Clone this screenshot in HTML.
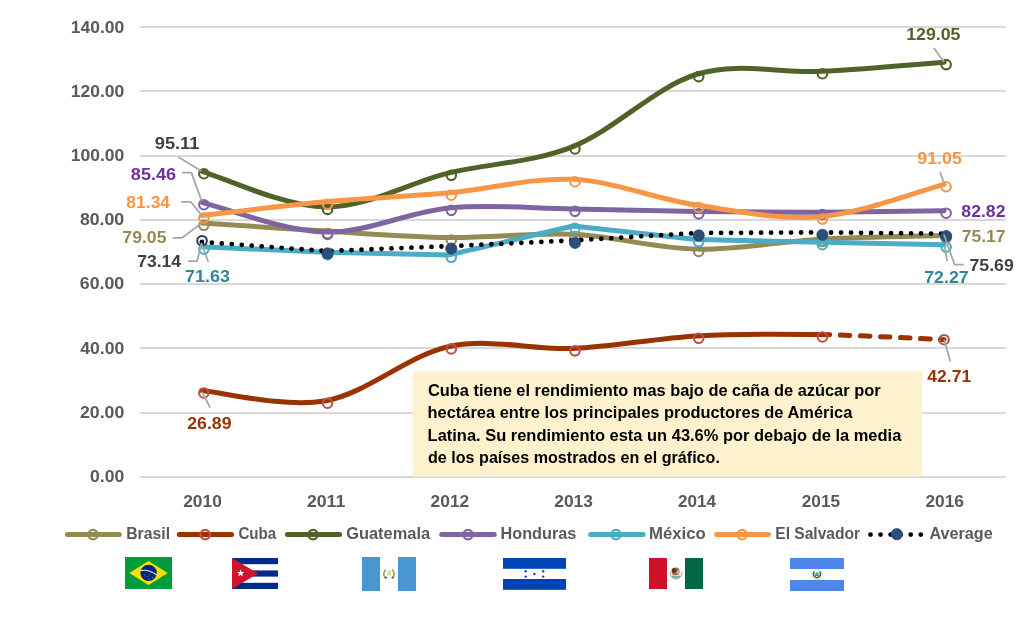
<!DOCTYPE html><html><head><meta charset="utf-8"><title>Rendimiento caña de azúcar</title><style>
html,body{margin:0;padding:0;background:#fff;width:1033px;height:630px;overflow:hidden}
svg{display:block;will-change:transform}
text{font-family:"Liberation Sans",Arial,sans-serif;font-weight:bold}
</style></head><body>
<svg width="1033" height="630" viewBox="0 0 1033 630">
<rect width="1033" height="630" fill="#fff"/>
<rect x="140" y="26" width="866" height="2" fill="#D9D9D9"/>
<rect x="140" y="90" width="866" height="2" fill="#D9D9D9"/>
<rect x="140" y="155" width="866" height="2" fill="#D9D9D9"/>
<rect x="140" y="219" width="866" height="2" fill="#D9D9D9"/>
<rect x="140" y="283" width="866" height="2" fill="#D9D9D9"/>
<rect x="140" y="347" width="866" height="2" fill="#D9D9D9"/>
<rect x="140" y="412" width="866" height="2" fill="#D9D9D9"/>
<rect x="140" y="476" width="866" height="2" fill="#D9D9D9"/>
<text x="90" y="482.24" font-size="16.38" fill="#595959" textLength="34.22" lengthAdjust="spacingAndGlyphs">0.00</text>
<text x="79.99" y="417.95" font-size="16.38" fill="#595959" textLength="44.24" lengthAdjust="spacingAndGlyphs">20.00</text>
<text x="80.23" y="353.67" font-size="16.38" fill="#595959" textLength="43.99" lengthAdjust="spacingAndGlyphs">40.00</text>
<text x="79.85" y="289.38" font-size="16.38" fill="#595959" textLength="44.38" lengthAdjust="spacingAndGlyphs">60.00</text>
<text x="79.94" y="225.1" font-size="16.38" fill="#595959" textLength="44.29" lengthAdjust="spacingAndGlyphs">80.00</text>
<text x="70.8" y="160.81" font-size="16.38" fill="#595959" textLength="53.42" lengthAdjust="spacingAndGlyphs">100.00</text>
<text x="70.8" y="96.53" font-size="16.38" fill="#595959" textLength="53.42" lengthAdjust="spacingAndGlyphs">120.00</text>
<text x="70.8" y="33.04" font-size="16.38" fill="#595959" textLength="53.42" lengthAdjust="spacingAndGlyphs">140.00</text>
<text x="183.21" y="506.74" font-size="16.38" fill="#595959" textLength="38.61" lengthAdjust="spacingAndGlyphs">2010</text>
<text x="306.92" y="506.74" font-size="16.38" fill="#595959" textLength="38.38" lengthAdjust="spacingAndGlyphs">2011</text>
<text x="430.63" y="506.74" font-size="16.38" fill="#595959" textLength="38.6" lengthAdjust="spacingAndGlyphs">2012</text>
<text x="554.35" y="506.72" font-size="16.35" fill="#595959" textLength="38.53" lengthAdjust="spacingAndGlyphs">2013</text>
<text x="678.07" y="506.74" font-size="16.38" fill="#595959" textLength="37.98" lengthAdjust="spacingAndGlyphs">2014</text>
<text x="801.78" y="506.74" font-size="16.38" fill="#595959" textLength="38.38" lengthAdjust="spacingAndGlyphs">2015</text>
<text x="925.49" y="506.74" font-size="16.38" fill="#595959" textLength="38.53" lengthAdjust="spacingAndGlyphs">2016</text>
<rect x="413" y="371" width="509" height="105.5" fill="#FEF1CD"/>
<text x="428.03" y="395.7" font-size="16.42" fill="#000000" textLength="452.52" lengthAdjust="spacingAndGlyphs">Cuba tiene el rendimiento mas bajo de caña de azúcar por</text>
<text x="427.55" y="418" font-size="16.42" fill="#000000" textLength="424.74" lengthAdjust="spacingAndGlyphs">hectárea entre los principales productores de América</text>
<text x="427.6" y="440.9" font-size="16.42" fill="#000000" textLength="473.7" lengthAdjust="spacingAndGlyphs">Latina. Su rendimiento esta un 43.6% por debajo de la media</text>
<text x="428.04" y="463.4" font-size="16.42" fill="#000000" textLength="291.87" lengthAdjust="spacingAndGlyphs">de los países mostrados en el gráfico.</text>
<path d="M201.86 222.91 C222.48 224.28 284.33 228.67 325.57 231.11 C366.81 233.54 408.05 237 449.29 237.54 C490.52 238.07 531.76 232.39 573 234.32 C614.24 236.25 655.48 248.3 696.71 249.11 C737.95 249.91 779.19 241.43 820.43 239.14 C861.67 236.86 923.52 236.01 944.14 235.38" fill="none" stroke="#948A54" stroke-width="5.0" stroke-linecap="round" stroke-linejoin="round"/>
<circle cx="203.86" cy="225.31" r="4.75" fill="none" stroke="#948A54" stroke-width="2.1"/>
<circle cx="327.57" cy="233.51" r="4.75" fill="none" stroke="#948A54" stroke-width="2.1"/>
<circle cx="451.29" cy="239.94" r="4.75" fill="none" stroke="#948A54" stroke-width="2.1"/>
<circle cx="575" cy="236.72" r="4.75" fill="none" stroke="#948A54" stroke-width="2.1"/>
<circle cx="698.71" cy="251.51" r="4.75" fill="none" stroke="#948A54" stroke-width="2.1"/>
<circle cx="822.43" cy="241.54" r="4.75" fill="none" stroke="#948A54" stroke-width="2.1"/>
<circle cx="946.14" cy="237.78" r="4.75" fill="none" stroke="#948A54" stroke-width="2.1"/>
<path d="M201.86 390.57 C222.48 392.28 284.33 408.17 325.57 400.82 C366.81 393.48 408.05 355.23 449.29 346.5 C490.52 337.77 531.76 350.2 573 348.43 C614.24 346.66 655.48 338.2 696.71 335.89 C737.95 333.59 779.19 333.97 820.43 334.61" fill="none" stroke="#993300" stroke-width="5.0" stroke-linecap="round" stroke-linejoin="round"/>
<path d="M820.43 334.61 C861.67 335.24 923.52 338.87 944.14 339.72" fill="none" stroke="#993300" stroke-width="5.0" stroke-linecap="round" stroke-dasharray="9.5 10.5"/>
<circle cx="203.86" cy="392.97" r="4.75" fill="none" stroke="#C0504D" stroke-width="2.1"/>
<circle cx="327.57" cy="403.22" r="4.75" fill="none" stroke="#C0504D" stroke-width="2.1"/>
<circle cx="451.29" cy="348.9" r="4.75" fill="none" stroke="#C0504D" stroke-width="2.1"/>
<circle cx="575" cy="350.83" r="4.75" fill="none" stroke="#C0504D" stroke-width="2.1"/>
<circle cx="698.71" cy="338.29" r="4.75" fill="none" stroke="#C0504D" stroke-width="2.1"/>
<circle cx="822.43" cy="337.01" r="4.75" fill="none" stroke="#C0504D" stroke-width="2.1"/>
<circle cx="944.14" cy="339.72" r="4.75" fill="none" stroke="#C0504D" stroke-width="2.1"/>
<path d="M201.86 171.29 C222.48 177.24 284.33 206.73 325.57 207 C366.81 207.27 408.05 183 449.29 172.93 C490.52 162.86 531.76 163.02 573 146.57 C614.24 130.12 655.48 86.79 696.71 74.25 C737.95 61.71 779.19 73.37 820.43 71.36 C861.67 69.35 923.52 63.72 944.14 62.2" fill="none" stroke="#4F6228" stroke-width="5.0" stroke-linecap="round" stroke-linejoin="round"/>
<circle cx="203.86" cy="173.69" r="4.75" fill="none" stroke="#4F6228" stroke-width="2.1"/>
<circle cx="327.57" cy="209.4" r="4.75" fill="none" stroke="#4F6228" stroke-width="2.1"/>
<circle cx="451.29" cy="175.33" r="4.75" fill="none" stroke="#4F6228" stroke-width="2.1"/>
<circle cx="575" cy="148.97" r="4.75" fill="none" stroke="#4F6228" stroke-width="2.1"/>
<circle cx="698.71" cy="76.65" r="4.75" fill="none" stroke="#4F6228" stroke-width="2.1"/>
<circle cx="822.43" cy="73.76" r="4.75" fill="none" stroke="#4F6228" stroke-width="2.1"/>
<circle cx="946.14" cy="64.6" r="4.75" fill="none" stroke="#4F6228" stroke-width="2.1"/>
<path d="M201.86 202.31 C222.48 207.27 284.33 231.13 325.57 232.07 C366.81 233.01 408.05 211.82 449.29 207.96 C490.52 204.11 531.76 208.34 573 208.93 C614.24 209.52 655.48 210.96 696.71 211.5 C737.95 212.04 779.19 212.26 820.43 212.14 C861.67 212.03 923.52 211.02 944.14 210.79" fill="none" stroke="#8064A2" stroke-width="5.0" stroke-linecap="round" stroke-linejoin="round"/>
<circle cx="203.86" cy="204.71" r="4.75" fill="none" stroke="#8064A2" stroke-width="2.1"/>
<circle cx="327.57" cy="234.47" r="4.75" fill="none" stroke="#8064A2" stroke-width="2.1"/>
<circle cx="451.29" cy="210.36" r="4.75" fill="none" stroke="#8064A2" stroke-width="2.1"/>
<circle cx="575" cy="211.33" r="4.75" fill="none" stroke="#8064A2" stroke-width="2.1"/>
<circle cx="698.71" cy="213.9" r="4.75" fill="none" stroke="#8064A2" stroke-width="2.1"/>
<circle cx="822.43" cy="214.54" r="4.75" fill="none" stroke="#8064A2" stroke-width="2.1"/>
<circle cx="946.14" cy="213.19" r="4.75" fill="none" stroke="#8064A2" stroke-width="2.1"/>
<path d="M201.86 246.76 L325.57 252.32 L449.29 254.89 L573 225.96 L696.71 239.46 L820.43 242.36 L944.14 244.7" fill="none" stroke="#4BACC6" stroke-width="5.0" stroke-linecap="round" stroke-linejoin="round"/>
<circle cx="203.86" cy="249.16" r="4.75" fill="none" stroke="#4BACC6" stroke-width="2.1"/>
<circle cx="327.57" cy="254.72" r="4.75" fill="none" stroke="#4BACC6" stroke-width="2.1"/>
<circle cx="451.29" cy="257.29" r="4.75" fill="none" stroke="#4BACC6" stroke-width="2.1"/>
<circle cx="575" cy="228.36" r="4.75" fill="none" stroke="#4BACC6" stroke-width="2.1"/>
<circle cx="698.71" cy="241.86" r="4.75" fill="none" stroke="#4BACC6" stroke-width="2.1"/>
<circle cx="822.43" cy="244.76" r="4.75" fill="none" stroke="#4BACC6" stroke-width="2.1"/>
<circle cx="946.14" cy="247.1" r="4.75" fill="none" stroke="#4BACC6" stroke-width="2.1"/>
<path d="M201.86 215.55 C222.48 213.27 284.33 205.64 325.57 201.86 C366.81 198.07 408.05 196.61 449.29 192.86 C490.52 189.11 531.76 177.32 573 179.36 C614.24 181.39 655.48 198.86 696.71 205.07 C737.95 211.29 779.19 220.1 820.43 216.64 C861.67 213.19 923.52 189.72 944.14 184.34" fill="none" stroke="#F79646" stroke-width="5.0" stroke-linecap="round" stroke-linejoin="round"/>
<circle cx="203.86" cy="217.95" r="4.75" fill="none" stroke="#F79646" stroke-width="2.1"/>
<circle cx="327.57" cy="204.26" r="4.75" fill="none" stroke="#F79646" stroke-width="2.1"/>
<circle cx="451.29" cy="195.26" r="4.75" fill="none" stroke="#F79646" stroke-width="2.1"/>
<circle cx="575" cy="181.76" r="4.75" fill="none" stroke="#F79646" stroke-width="2.1"/>
<circle cx="698.71" cy="207.47" r="4.75" fill="none" stroke="#F79646" stroke-width="2.1"/>
<circle cx="822.43" cy="219.04" r="4.75" fill="none" stroke="#F79646" stroke-width="2.1"/>
<circle cx="946.14" cy="186.74" r="4.75" fill="none" stroke="#F79646" stroke-width="2.1"/>
<path d="M201.86 241.91 L325.57 251.04 L449.29 246.21 L573 240.43 L696.71 233.04 L820.43 232.39 L944.14 233.71" fill="none" stroke="#000" stroke-width="4.8" stroke-linecap="round" stroke-dasharray="0 10"/>
<circle cx="202.06" cy="240.71" r="4.8" fill="none" stroke="#203864" stroke-width="2"/>
<circle cx="327.57" cy="253.44" r="5.6" fill="#2A5079" stroke="#224573" stroke-width="0.8"/>
<circle cx="451.29" cy="248.61" r="5.6" fill="#2A5079" stroke="#224573" stroke-width="0.8"/>
<circle cx="575" cy="242.83" r="5.6" fill="#2A5079" stroke="#224573" stroke-width="0.8"/>
<circle cx="698.71" cy="235.44" r="5.6" fill="#2A5079" stroke="#224573" stroke-width="0.8"/>
<circle cx="822.43" cy="234.79" r="5.6" fill="#2A5079" stroke="#224573" stroke-width="0.8"/>
<circle cx="946.14" cy="236.11" r="5.6" fill="#2A5079" stroke="#224573" stroke-width="0.8"/>
<path d="M178.3 157.1 L201.4 171" fill="none" stroke="#A6A6A6" stroke-width="1.75"/>
<path d="M182.1 172.6 L191.4 172.6 L201.8 201.4" fill="none" stroke="#A6A6A6" stroke-width="1.75"/>
<path d="M181.1 201.8 L190.7 201.8 L201.8 215.4" fill="none" stroke="#A6A6A6" stroke-width="1.75"/>
<path d="M172.6 237.9 L182.1 237.9 L201.4 223.2" fill="none" stroke="#A6A6A6" stroke-width="1.75"/>
<path d="M188.3 261.1 L197.1 261.1 L201.7 242.9" fill="none" stroke="#A6A6A6" stroke-width="1.75"/>
<path d="M202 245 L208.3 261.7" fill="none" stroke="#A6A6A6" stroke-width="1.75"/>
<path d="M202.2 391.7 L210 407.6" fill="none" stroke="#A6A6A6" stroke-width="1.75"/>
<path d="M933.9 48.1 L944 62.1" fill="none" stroke="#A6A6A6" stroke-width="1.75"/>
<path d="M940 172.1 L944 182.9" fill="none" stroke="#A6A6A6" stroke-width="1.75"/>
<path d="M944 234.5 L954.5 264.5 L963.6 264.5" fill="none" stroke="#A6A6A6" stroke-width="1.75"/>
<path d="M944.5 245.5 L947.1 261.2" fill="none" stroke="#A6A6A6" stroke-width="1.75"/>
<path d="M944.2 339.4 L950.4 361.6" fill="none" stroke="#A6A6A6" stroke-width="1.75"/>
<text x="154.78" y="148.64" font-size="16.1" fill="#404040" textLength="44.61" lengthAdjust="spacingAndGlyphs">95.11</text>
<text x="130.83" y="179.64" font-size="16.1" fill="#7030A0" textLength="45.23" lengthAdjust="spacingAndGlyphs">85.46</text>
<text x="126.35" y="208.38" font-size="16.1" fill="#F79646" textLength="43.75" lengthAdjust="spacingAndGlyphs">81.34</text>
<text x="122.34" y="243.49" font-size="16.1" fill="#948A54" textLength="44.15" lengthAdjust="spacingAndGlyphs">79.05</text>
<text x="137.15" y="266.73" font-size="16.1" fill="#404040" textLength="43.95" lengthAdjust="spacingAndGlyphs">73.14</text>
<text x="185.13" y="282.43" font-size="16.1" fill="#31859C" textLength="44.82" lengthAdjust="spacingAndGlyphs">71.63</text>
<text x="187.29" y="428.64" font-size="16.1" fill="#993300" textLength="44.17" lengthAdjust="spacingAndGlyphs">26.89</text>
<text x="906.18" y="39.64" font-size="16.1" fill="#4F6228" textLength="54.31" lengthAdjust="spacingAndGlyphs">129.05</text>
<text x="917.28" y="163.99" font-size="16.1" fill="#F79646" textLength="44.61" lengthAdjust="spacingAndGlyphs">91.05</text>
<text x="961.34" y="216.64" font-size="16.1" fill="#7030A0" textLength="44.17" lengthAdjust="spacingAndGlyphs">82.82</text>
<text x="961.65" y="241.66" font-size="16.1" fill="#948A54" textLength="43.93" lengthAdjust="spacingAndGlyphs">75.17</text>
<text x="969.44" y="271.49" font-size="16.1" fill="#404040" textLength="44.32" lengthAdjust="spacingAndGlyphs">75.69</text>
<text x="924.24" y="283.12" font-size="16.1" fill="#31859C" textLength="44.44" lengthAdjust="spacingAndGlyphs">72.27</text>
<text x="927.23" y="382.42" font-size="16.1" fill="#993300" textLength="43.95" lengthAdjust="spacingAndGlyphs">42.71</text>
<line x1="67.4" y1="534.6" x2="119.3" y2="534.6" stroke="#948A54" stroke-width="5.0" stroke-linecap="round"/>
<circle cx="93" cy="534.6" r="4.75" fill="none" stroke="#948A54" stroke-width="2.1"/>
<line x1="179.3" y1="534.6" x2="231.5" y2="534.6" stroke="#993300" stroke-width="5.0" stroke-linecap="round"/>
<circle cx="205.2" cy="534.6" r="4.75" fill="none" stroke="#C0504D" stroke-width="2.1"/>
<line x1="287.4" y1="534.6" x2="339.6" y2="534.6" stroke="#4F6228" stroke-width="5.0" stroke-linecap="round"/>
<circle cx="313" cy="534.6" r="4.75" fill="none" stroke="#4F6228" stroke-width="2.1"/>
<line x1="441.7" y1="534.6" x2="494.2" y2="534.6" stroke="#8064A2" stroke-width="5.0" stroke-linecap="round"/>
<circle cx="468" cy="534.6" r="4.75" fill="none" stroke="#8064A2" stroke-width="2.1"/>
<line x1="590.6" y1="534.6" x2="643.1" y2="534.6" stroke="#4BACC6" stroke-width="5.0" stroke-linecap="round"/>
<circle cx="616" cy="534.6" r="4.75" fill="none" stroke="#4BACC6" stroke-width="2.1"/>
<line x1="716.7" y1="534.6" x2="768.4" y2="534.6" stroke="#F79646" stroke-width="5.0" stroke-linecap="round"/>
<circle cx="742.2" cy="534.6" r="4.75" fill="none" stroke="#F79646" stroke-width="2.1"/>
<line x1="870.5" y1="534.6" x2="921" y2="534.6" stroke="#000" stroke-width="4.8" stroke-linecap="round" stroke-dasharray="0 10.05"/>
<circle cx="896.8" cy="534.2" r="5.6" fill="#2A5079" stroke="#224573" stroke-width="0.8"/>
<text x="126.25" y="539.4" font-size="17.01" fill="#595959" textLength="43.77" lengthAdjust="spacingAndGlyphs">Brasil</text>
<text x="238.38" y="539.4" font-size="17.01" fill="#595959" textLength="37.82" lengthAdjust="spacingAndGlyphs">Cuba</text>
<text x="346.23" y="539.4" font-size="17.01" fill="#595959" textLength="83.87" lengthAdjust="spacingAndGlyphs">Guatemala</text>
<text x="500.51" y="539.4" font-size="17.01" fill="#595959" textLength="75.75" lengthAdjust="spacingAndGlyphs">Honduras</text>
<text x="648.98" y="539.4" font-size="17.01" fill="#595959" textLength="56.77" lengthAdjust="spacingAndGlyphs">México</text>
<text x="775.26" y="539.4" font-size="17.01" fill="#595959" textLength="84.88" lengthAdjust="spacingAndGlyphs">El Salvador</text>
<text x="929.4" y="539.4" font-size="17.01" fill="#595959" textLength="63.25" lengthAdjust="spacingAndGlyphs">Average</text>
<g id="flags">
<!-- Brazil -->
<rect x="125" y="557" width="47" height="32" fill="#009C3B"/>
<polygon points="129.3,573 148.5,561 167.7,573 148.5,585" fill="#FEDF00"/>
<circle cx="148.6" cy="572.9" r="8.2" fill="#002776"/>
<path d="M140.6 570.6 Q149 569 156.6 575" fill="none" stroke="#E8EEF5" stroke-width="1.1"/>
<g fill="#8FA3D0"><circle cx="144.5" cy="575" r="0.5"/><circle cx="147.5" cy="576.5" r="0.5"/><circle cx="150" cy="574.8" r="0.5"/><circle cx="152.5" cy="577.5" r="0.5"/><circle cx="149" cy="579" r="0.5"/></g>
<!-- Cuba -->
<rect x="232" y="558" width="46" height="31" fill="#002A8F"/>
<rect x="232" y="564.2" width="46" height="6.2" fill="#fff"/>
<rect x="232" y="576.6" width="46" height="6.2" fill="#fff"/>
<polygon points="232,558 258,573.5 232,589" fill="#CF142B"/>
<polygon points="240.7,569.2 241.6,572 244.5,572 242.2,573.7 243.1,576.5 240.7,574.8 238.3,576.5 239.2,573.7 236.9,572 239.8,572" fill="#fff"/>
<!-- Guatemala -->
<rect x="362" y="557" width="18" height="34" fill="#4997D0"/>
<rect x="398" y="557" width="18" height="34" fill="#4997D0"/>
<path d="M386 569.5 Q381.8 573.5 385.5 578.5" fill="none" stroke="#7D8F66" stroke-width="1.3"/>
<path d="M392 569.5 Q396.2 573.5 392.5 578.5" fill="none" stroke="#7D8F66" stroke-width="1.3"/>
<path d="M387.5 570.5 L390.5 570.5 L391 575.5 L387 575.5 Z" fill="#EDD77E"/>
<circle cx="386" cy="577.5" r="1.1" fill="#7A4A2A"/>
<circle cx="392.5" cy="577.5" r="1.1" fill="#8A3A2A"/>
<!-- Honduras -->
<rect x="503" y="558" width="63" height="10.8" fill="#0044B8"/>
<rect x="503" y="579" width="63" height="10.8" fill="#0044B8"/>
<circle cx="525.7" cy="571.3" r="1.2" fill="#0044B8"/>
<circle cx="525.7" cy="576.6" r="1.2" fill="#0044B8"/>
<circle cx="534.4" cy="574" r="1.2" fill="#0044B8"/>
<circle cx="543.2" cy="571.3" r="1.2" fill="#0044B8"/>
<circle cx="543.2" cy="576.6" r="1.2" fill="#0044B8"/>
<!-- Mexico -->
<rect x="649" y="558" width="18" height="31" fill="#CE1126"/>
<rect x="685" y="558" width="18" height="31" fill="#006847"/>
<path d="M670 572 Q670.5 578.5 676 579 Q681.5 578.5 682 572" fill="none" stroke="#C9B48C" stroke-width="1.3"/>
<circle cx="675.5" cy="571.5" r="4" fill="#9A6A48"/>
<circle cx="674" cy="570.5" r="2.2" fill="#5A2E1A"/>
<circle cx="678.3" cy="572.3" r="1.7" fill="#E0A878"/>
<path d="M672 576 Q676 578.5 680 576" fill="none" stroke="#5FA8C8" stroke-width="1.8"/>
<!-- El Salvador -->
<rect x="790" y="558" width="54" height="11" fill="#4F86EE"/>
<rect x="790" y="580" width="54" height="11" fill="#4F86EE"/>
<circle cx="817" cy="574.5" r="5.3" fill="none" stroke="#DCCB9E" stroke-width="0.9"/>
<path d="M814.6 571.6 A3.5 3.5 0 1 0 819.4 571.6" fill="none" stroke="#1F7A3A" stroke-width="1.5"/>
<polygon points="817,571.3 819.6,575.6 814.4,575.6" fill="#5BA3D6"/>
<rect x="815.3" y="574.6" width="3.4" height="1.2" fill="#3C9A4A"/>
</g>

</svg></body></html>
